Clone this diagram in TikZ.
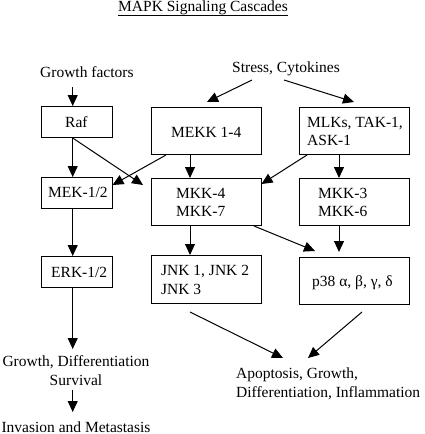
\documentclass[tikz,border=0pt]{standalone}
\usepackage{fontspec}
\setmainfont{Liberation Serif}
\usetikzlibrary{arrows.meta}
\begin{document}
\begin{tikzpicture}[x=1pt,y=-1pt,
  box/.style={draw, line width=1pt, inner sep=0pt, anchor=north west},
  lbl/.style={inner sep=0pt, anchor=base west, align=left,
              font=\fontsize{15.5}{18.5}\selectfont},
  arr/.style={line width=1pt, -{Triangle[length=11pt,width=10pt]}}]
\useasboundingbox (0,0) rectangle (424,434);
% boxes
\node[box, minimum width=71pt,  minimum height=31pt] (raf)   at (41,106)  {};
\node[box, minimum width=110pt, minimum height=47pt] (mekk)  at (151,107) {};
\node[box, minimum width=110pt, minimum height=47pt] (mlk)   at (299,107) {};
\node[box, minimum width=71pt,  minimum height=31pt] (mek)   at (41,177)  {};
\node[box, minimum width=110pt, minimum height=47pt] (mkkA)  at (151,178) {};
\node[box, minimum width=110pt, minimum height=47pt] (mkkB)  at (299,178) {};
\node[box, minimum width=71pt,  minimum height=31pt] (erk)   at (41,256)  {};
\node[box, minimum width=110pt, minimum height=48pt] (jnk)   at (151,255) {};
\node[box, minimum width=110pt, minimum height=47pt] (p38)   at (299,257) {};
% texts (multi-line texts are placed by the baseline of their last line)
\node[lbl, anchor=base] (title) at (203,11.5) {MAPK Signaling Cascades};
\draw[line width=0.8pt] ([yshift=-3.5pt]title.base west) -- ([yshift=-3.5pt]title.base east);
\node[lbl] (gf)     at (40,77)    {Growth factors};
\node[lbl] (stress) at (232,72.7) {Stress, Cytokines};
\node[lbl] (traf)   at (65,127.5)  {Raf};
\node[lbl] (tmekk)  at (171,137.3) {MEKK 1-4};
\node[lbl] (tmlk)   at (307,145.7) {MLKs, TAK-1,\\ASK-1};
\node[lbl] (tmek)   at (48,197.3)  {MEK-1/2};
\node[lbl] (tmkkA)  at (176,216.5) {MKK-4\\MKK-7};
\node[lbl] (tmkkB)  at (318,216.5) {MKK-3\\MKK-6};
\node[lbl] (terk)   at (51,277.3)  {ERK-1/2};
\node[lbl] (tjnk)   at (161,294)   {JNK 1, JNK 2\\JNK 3};
\node[lbl] (tp38)   at (312,286)   {p38 α, β, γ, δ};
\node[lbl, align=center, anchor=base] (grow) at (76,385) {Growth, Differentiation\\Survival};
\node[lbl, anchor=base] (inv) at (76,432) {Invasion and Metastasis};
\node[lbl] (apop) at (236,397) {Apoptosis, Growth,\\Differentiation, Inflammation};
% column positions and free ends
\coordinate (xA) at (72.7,0);
\coordinate (xB) at (190,0);
\coordinate (xC) at (339,0);
\coordinate (xD) at (166,0);
\coordinate (xE) at (307,0);
\coordinate (xF) at (254,0);
\coordinate (gfa) at (72.7,87);
\coordinate (sa)  at (252,80);
\coordinate (sae) at (207,102);
\coordinate (sb)  at (284,80);
\coordinate (sbe) at (354,102);
\coordinate (rde) at (143,185);
\coordinate (mde) at (112.5,185);
\coordinate (lde) at (261.5,184);
\coordinate (kde) at (315,251);
\coordinate (pbe) at (339,252);
\coordinate (gre) at (72.7,349);
\coordinate (sva) at (72.7,390);
\coordinate (sve) at (72.7,412);
\coordinate (ja)  at (190,312);
\coordinate (jae) at (283,358);
\coordinate (pa)  at (362,312);
\coordinate (pae) at (308,358);
% connectors
\draw[arr] (gfa) -- (raf.north -| xA);
\draw[arr] (sa) -- (sae);
\draw[arr] (sb) -- (sbe);
\draw[arr] (raf.south -| xA) -- (mek.north -| xA);
\draw[arr] (raf.south -| xA) -- (rde);
\draw[arr] (mekk.south -| xD) -- (mde);
\draw[arr] (mekk.south -| xB) -- (mkkA.north -| xB);
\draw[arr] (mlk.south -| xE) -- (lde);
\draw[arr] (mlk.south -| xC) -- (mkkB.north -| xC);
\draw[arr] (mek.south -| xA) -- (erk.north -| xA);
\draw[arr] (mkkA.south -| xB) -- (jnk.north -| xB);
\draw[arr] (mkkA.south -| xF) -- (kde);
\draw[arr] (mkkB.south -| xC) -- (pbe);
\draw[arr] (erk.south -| xA) -- (gre);
\draw[arr] (sva) -- (sve);
\draw[arr] (ja) -- (jae);
\draw[arr] (pa) -- (pae);
\end{tikzpicture}
\end{document}
